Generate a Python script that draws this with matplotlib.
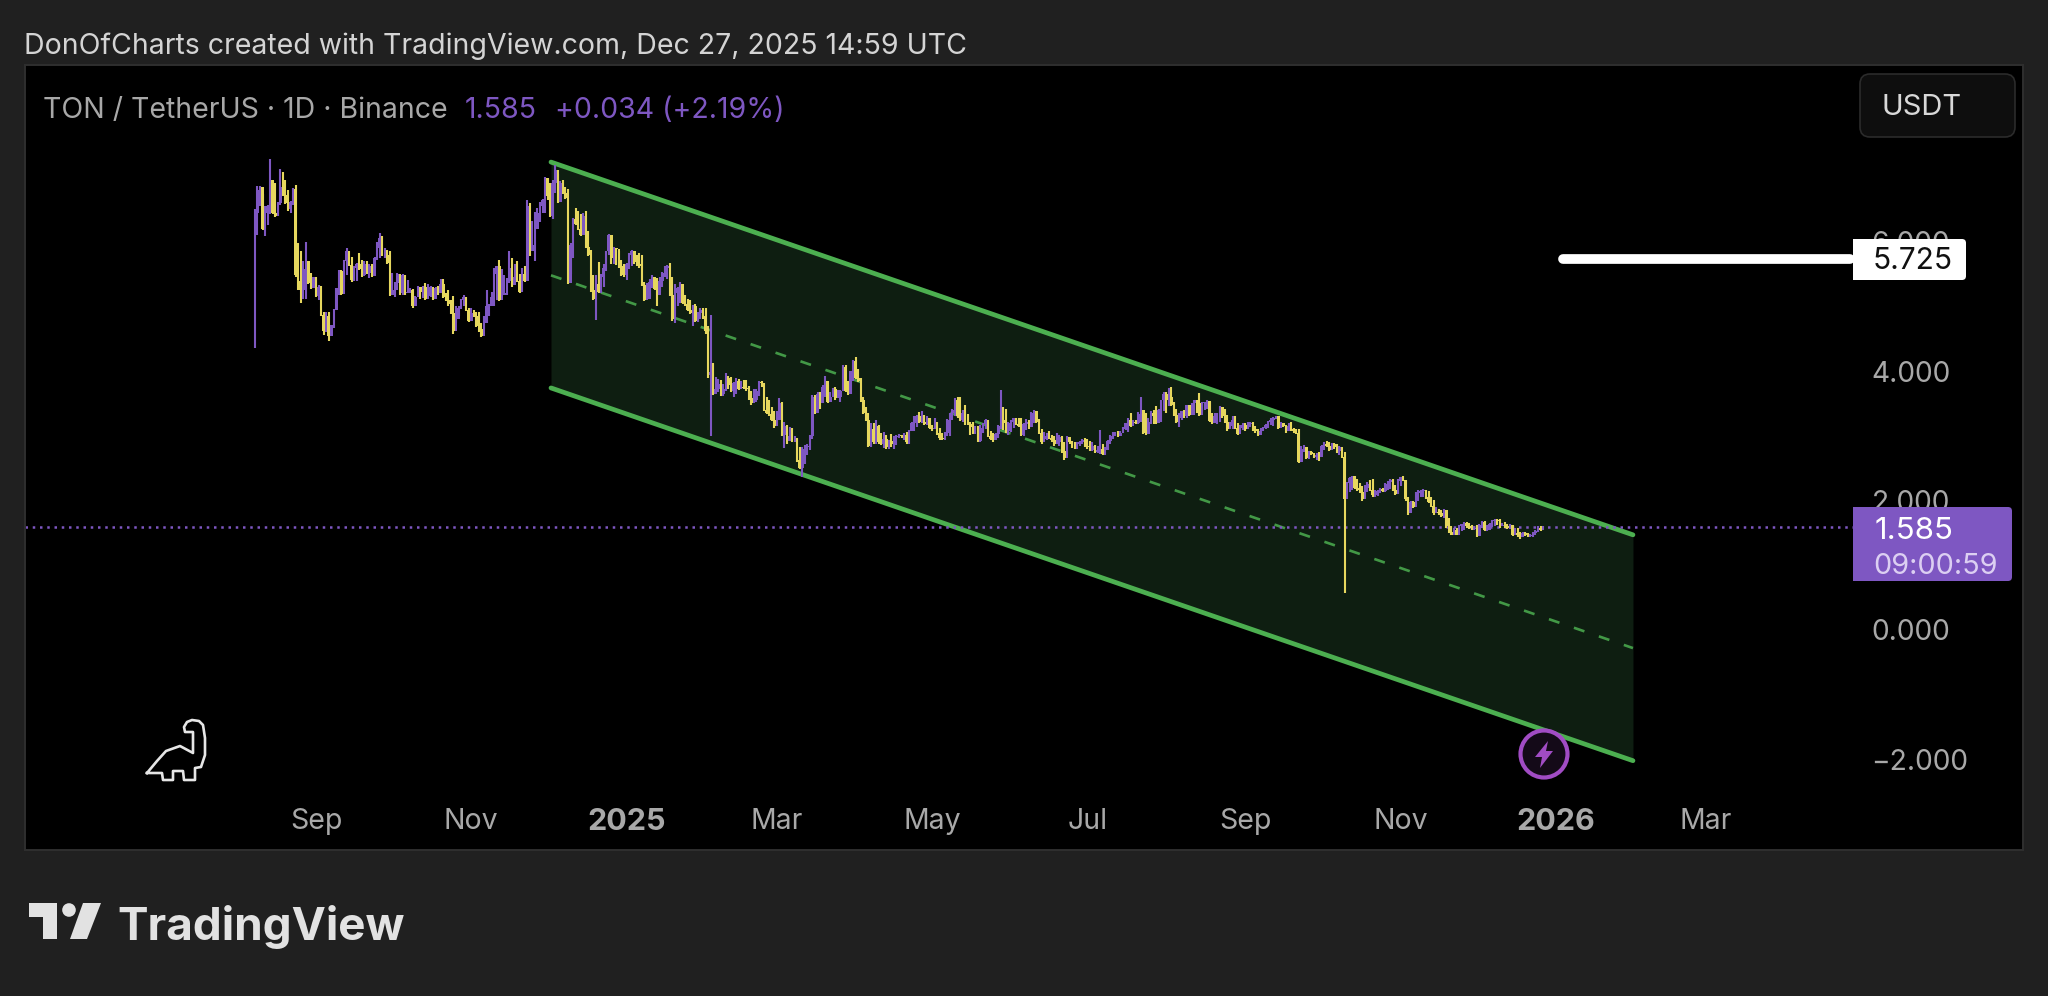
#!/usr/bin/env python3
# TON/USDT daily candles with a falling channel, TradingView dark snapshot look
import numpy as np
import matplotlib
matplotlib.use("Agg")
import matplotlib.pyplot as plt
from matplotlib.patches import FancyBboxPatch, Polygon, Circle, Rectangle
from matplotlib.lines import Line2D

plt.rcParams['font.family'] = ['Inter', 'DejaVu Sans']

# x axis is days since 2024-09-01
first_day = -24
first_open = 6.05

closes = [
    6.45, 6.80, 6.85, 6.20, 6.45, 6.55, 6.95, 6.45, 6.40, 6.60, 6.85, 6.72, 6.60, 6.50, 6.62, 6.82, 5.48, 5.40, 5.25, 5.58,
    5.70, 5.36, 5.29, 5.45, 5.16, 5.30, 4.87, 4.62, 4.85, 4.55, 4.72, 4.95, 5.28, 5.55, 5.19, 5.70, 5.85, 5.64, 5.41, 5.60,
    5.65, 5.58, 5.48, 5.66, 5.52, 5.62, 5.47, 5.75, 5.90, 6.05, 5.80, 5.80, 5.67, 5.18, 5.26, 5.36, 5.50, 5.20, 5.48, 5.20,
    5.22, 5.25, 5.00, 5.15, 5.30, 5.22, 5.30, 5.12, 5.16, 5.30, 5.12, 5.28, 5.20, 5.35, 5.15, 5.10, 5.03, 4.90, 4.62, 4.80,
    4.98, 5.10, 5.15, 4.95, 4.78, 4.90, 4.85, 4.70, 4.65, 4.55, 4.75, 5.00, 5.00, 5.15, 5.50, 5.62, 5.10, 5.18, 5.20, 5.40,
    5.60, 5.33, 5.45, 5.40, 5.22, 5.50, 5.40, 6.55, 5.85, 5.95, 6.20, 6.45, 6.55, 6.65, 6.98, 6.70, 6.40, 6.90, 7.10, 6.62,
    6.90, 6.75, 6.68, 5.36, 5.95, 6.35, 6.28, 6.20, 6.10, 6.40, 5.92, 5.80, 5.25, 5.12, 5.35, 5.22, 5.45, 5.60, 5.85, 6.10,
    5.75, 5.90, 5.88, 5.62, 5.49, 5.48, 5.65, 5.80, 5.85, 5.68, 5.65, 5.62, 5.33, 5.10, 5.12, 5.38, 5.45, 5.27, 5.18, 5.40,
    5.52, 5.60, 5.62, 5.18, 4.80, 5.20, 5.28, 5.35, 5.05, 5.03, 4.95, 4.90, 5.00, 4.78, 4.90, 4.95, 4.85, 4.62, 3.94, 3.98,
    3.65, 3.72, 3.80, 3.64, 3.72, 3.90, 3.78, 3.70, 3.82, 3.85, 3.73, 3.75, 3.74, 3.72, 3.58, 3.50, 3.55, 3.70, 3.83, 3.82,
    3.40, 3.35, 3.33, 3.25, 3.15, 3.25, 3.50, 3.02, 3.15, 2.92, 3.00, 2.92, 2.92, 2.62, 2.50, 2.80, 2.82, 2.85, 3.00, 3.60,
    3.35, 3.65, 3.50, 3.75, 3.85, 3.53, 3.60, 3.72, 3.58, 3.60, 3.70, 4.07, 3.70, 3.65, 4.00, 4.15, 3.90, 3.85, 3.55, 3.35,
    3.25, 2.85, 3.10, 2.90, 3.15, 2.90, 2.88, 2.95, 2.82, 2.92, 2.88, 2.98, 3.00, 3.02, 3.00, 3.02, 2.90, 3.08, 3.20, 3.30,
    3.30, 3.22, 3.22, 3.18, 3.28, 3.12, 3.10, 3.12, 3.04, 2.96, 2.95, 3.05, 3.25, 3.35, 3.40, 3.55, 3.30, 3.25, 3.35, 3.19,
    3.18, 3.13, 3.05, 3.05, 2.92, 3.12, 3.18, 3.24, 3.00, 2.95, 2.93, 3.03, 3.15, 3.25, 3.20, 3.07, 3.20, 3.22, 3.27, 3.18,
    3.15, 3.02, 3.18, 3.22, 3.13, 3.35, 3.38, 3.22, 3.05, 2.90, 2.95, 2.99, 2.97, 2.93, 2.87, 2.90, 2.98, 2.76, 2.65, 2.98,
    2.90, 2.83, 2.82, 2.88, 2.90, 2.93, 2.85, 2.83, 2.78, 2.85, 2.75, 2.78, 2.80, 2.72, 2.78, 2.92, 3.00, 3.05, 3.05, 3.00,
    3.05, 3.10, 3.20, 3.25, 3.15, 3.22, 3.20, 3.33, 3.40, 3.05, 3.03, 3.22, 3.35, 3.30, 3.20, 3.40, 3.55, 3.65, 3.55, 3.60,
    3.48, 3.32, 3.22, 3.28, 3.38, 3.30, 3.47, 3.32, 3.50, 3.55, 3.50, 3.32, 3.50, 3.52, 3.54, 3.23, 3.20, 3.30, 3.31, 3.44,
    3.30, 3.22, 3.10, 3.15, 3.25, 3.12, 3.03, 3.12, 3.17, 3.10, 3.18, 3.20, 3.10, 3.07, 3.02, 3.07, 3.12, 3.16, 3.22, 3.25,
    3.28, 3.30, 3.12, 3.20, 3.15, 3.07, 3.15, 3.10, 3.07, 3.05, 2.60, 2.80, 2.82, 2.66, 2.75, 2.72, 2.68, 2.70, 2.68, 2.85,
    2.88, 2.85, 2.78, 2.88, 2.82, 2.76, 2.82, 2.68, 2.03, 2.27, 2.35, 2.38, 2.20, 2.17, 2.13, 2.02, 2.20, 2.25, 2.17, 2.08,
    2.08, 2.15, 2.18, 2.15, 2.25, 2.28, 2.32, 2.17, 2.10, 2.30, 2.36, 2.32, 2.02, 1.80, 1.98, 1.90, 2.12, 2.15, 2.15, 2.16,
    2.05, 1.98, 1.92, 1.80, 1.83, 1.80, 1.76, 1.85, 1.60, 1.52, 1.46, 1.54, 1.47, 1.60, 1.63, 1.66, 1.60, 1.58, 1.56, 1.58,
    1.45, 1.62, 1.67, 1.55, 1.55, 1.63, 1.69, 1.70, 1.68, 1.60, 1.62, 1.60, 1.58, 1.62, 1.47, 1.50, 1.46, 1.43, 1.50, 1.47,
    1.45, 1.46, 1.50, 1.53, 1.58, 1.551, 1.585,
]
highs = [
    6.50, 6.86, 6.86, 6.73, 6.55, 6.56, 7.28, 6.93, 6.90, 6.61, 7.12, 7.08, 6.95, 6.80, 6.63, 6.83, 6.88, 5.98, 5.85, 5.70,
    5.99, 5.67, 5.52, 5.46, 5.46, 5.33, 5.32, 4.92, 4.92, 4.92, 4.72, 4.96, 5.28, 5.57, 5.57, 5.72, 5.90, 5.86, 5.77, 5.62,
    5.67, 5.82, 5.72, 5.70, 5.70, 5.65, 5.66, 5.76, 6.00, 6.14, 6.08, 5.90, 5.87, 5.85, 5.51, 5.37, 5.52, 5.46, 5.50, 5.48,
    5.41, 5.28, 5.27, 5.16, 5.32, 5.30, 5.32, 5.36, 5.35, 5.31, 5.25, 5.30, 5.32, 5.42, 5.42, 5.20, 5.25, 5.10, 5.16, 5.00,
    5.00, 5.12, 5.17, 5.15, 4.97, 4.97, 4.95, 4.92, 4.92, 4.75, 4.85, 5.25, 5.03, 5.22, 5.60, 5.63, 5.72, 5.58, 5.49, 5.44,
    5.85, 5.75, 5.65, 5.70, 5.50, 5.60, 5.62, 6.64, 6.60, 6.32, 6.46, 6.52, 6.62, 6.66, 7.00, 6.98, 6.90, 6.95, 7.19, 7.05,
    6.93, 6.95, 6.85, 6.82, 5.98, 6.36, 6.52, 6.47, 6.42, 6.45, 6.47, 6.16, 5.87, 5.48, 5.48, 5.68, 5.50, 5.65, 5.85, 6.12,
    6.02, 5.92, 5.90, 5.85, 5.72, 5.65, 5.67, 5.82, 5.87, 5.84, 5.80, 5.82, 5.80, 5.37, 5.36, 5.43, 5.48, 5.44, 5.44, 5.46,
    5.53, 5.62, 5.64, 5.67, 5.45, 5.35, 5.30, 5.37, 5.20, 5.18, 5.12, 5.10, 5.02, 5.04, 4.92, 4.97, 4.97, 4.97, 4.69, 4.87,
    4.12, 3.91, 3.88, 3.87, 3.80, 3.97, 3.92, 3.91, 3.83, 3.89, 3.88, 3.85, 3.87, 3.86, 3.77, 3.70, 3.72, 3.72, 3.84, 3.84,
    3.82, 3.60, 3.55, 3.45, 3.38, 3.38, 3.59, 3.53, 3.22, 3.17, 3.14, 3.12, 2.99, 2.96, 2.83, 2.82, 2.86, 2.87, 3.01, 3.63,
    3.63, 3.68, 3.68, 3.78, 3.92, 3.79, 3.68, 3.74, 3.76, 3.71, 3.71, 4.09, 4.09, 3.85, 4.00, 4.17, 4.22, 4.04, 3.90, 3.60,
    3.45, 3.35, 3.20, 3.20, 3.25, 3.17, 3.04, 3.06, 3.01, 2.93, 3.03, 2.99, 3.01, 3.03, 3.02, 3.04, 3.06, 3.09, 3.22, 3.31,
    3.32, 3.37, 3.39, 3.32, 3.30, 3.28, 3.16, 3.27, 3.22, 3.12, 3.05, 3.06, 3.26, 3.36, 3.41, 3.58, 3.60, 3.60, 3.40, 3.48,
    3.34, 3.22, 3.21, 3.15, 3.15, 3.17, 3.20, 3.26, 3.22, 3.07, 3.05, 3.04, 3.16, 3.71, 3.45, 3.42, 3.22, 3.25, 3.28, 3.27,
    3.27, 3.28, 3.20, 3.26, 3.24, 3.37, 3.40, 3.38, 3.26, 3.10, 3.06, 3.04, 3.07, 3.02, 3.00, 3.05, 3.01, 3.00, 2.90, 2.99,
    2.93, 2.92, 2.90, 2.90, 2.92, 2.95, 2.96, 2.95, 2.92, 2.91, 2.86, 2.85, 3.09, 2.88, 2.82, 2.94, 3.01, 3.06, 3.06, 3.07,
    3.07, 3.14, 3.20, 3.27, 3.36, 3.25, 3.24, 3.37, 3.60, 3.36, 3.36, 3.28, 3.38, 3.40, 3.46, 3.42, 3.56, 3.68, 3.68, 3.74,
    3.75, 3.53, 3.42, 3.35, 3.39, 3.40, 3.48, 3.45, 3.51, 3.56, 3.52, 3.66, 3.53, 3.53, 3.55, 3.53, 3.35, 3.35, 3.36, 3.46,
    3.45, 3.41, 3.32, 3.22, 3.30, 3.30, 3.20, 3.17, 3.20, 3.20, 3.21, 3.22, 3.21, 3.15, 3.10, 3.12, 3.14, 3.18, 3.23, 3.27,
    3.29, 3.31, 3.28, 3.22, 3.20, 3.16, 3.20, 3.22, 3.12, 3.10, 3.10, 2.84, 2.86, 2.81, 2.76, 2.76, 2.74, 2.73, 2.75, 2.86,
    2.90, 2.92, 2.91, 2.89, 2.89, 2.87, 2.84, 2.78, 2.75, 2.28, 2.36, 2.38, 2.38, 2.33, 2.27, 2.22, 2.24, 2.29, 2.31, 2.33,
    2.17, 2.17, 2.19, 2.19, 2.27, 2.30, 2.34, 2.33, 2.24, 2.33, 2.37, 2.38, 2.32, 2.05, 2.00, 2.00, 2.13, 2.17, 2.17, 2.18,
    2.17, 2.14, 2.05, 2.01, 1.90, 1.87, 1.85, 1.87, 1.82, 1.73, 1.60, 1.57, 1.57, 1.62, 1.64, 1.67, 1.67, 1.66, 1.62, 1.60,
    1.62, 1.64, 1.68, 1.68, 1.62, 1.65, 1.70, 1.71, 1.71, 1.71, 1.66, 1.67, 1.63, 1.64, 1.62, 1.58, 1.58, 1.52, 1.52, 1.51,
    1.50, 1.49, 1.51, 1.55, 1.60, 1.60, 1.60,
]
lows = [
    4.35, 6.10, 6.55, 6.18, 6.08, 6.25, 6.42, 6.43, 6.38, 6.40, 6.57, 6.70, 6.58, 6.48, 6.44, 6.57, 5.46, 5.25, 5.05, 5.12,
    5.12, 5.34, 5.27, 5.28, 5.14, 5.10, 4.85, 4.56, 4.60, 4.46, 4.62, 4.66, 4.95, 5.17, 5.17, 5.37, 5.49, 5.62, 5.38, 5.40,
    5.40, 5.56, 5.46, 5.47, 5.50, 5.44, 5.45, 5.60, 5.72, 5.74, 5.78, 5.75, 5.65, 5.16, 5.24, 5.15, 5.25, 5.18, 5.18, 5.18,
    5.20, 5.20, 4.98, 5.00, 5.14, 5.12, 5.13, 5.10, 5.14, 5.14, 5.10, 5.20, 5.18, 5.20, 5.13, 5.08, 5.01, 4.88, 4.58, 4.75,
    4.85, 4.96, 5.00, 4.93, 4.76, 4.80, 4.83, 4.68, 4.60, 4.53, 4.65, 4.75, 4.85, 5.00, 5.00, 5.10, 5.08, 5.16, 5.18, 5.18,
    5.36, 5.30, 5.38, 5.38, 5.20, 5.22, 5.37, 5.46, 5.78, 5.92, 5.70, 6.20, 6.30, 6.45, 6.45, 6.65, 6.38, 6.35, 6.75, 6.60,
    6.62, 6.73, 6.66, 5.34, 5.50, 5.75, 6.26, 6.18, 6.08, 6.10, 5.90, 5.78, 5.23, 5.10, 4.79, 5.20, 5.20, 5.30, 5.55, 5.80,
    5.65, 5.65, 5.64, 5.60, 5.47, 5.46, 5.41, 5.58, 5.62, 5.66, 5.63, 5.60, 5.31, 5.08, 5.10, 5.15, 5.28, 5.25, 5.00, 5.22,
    5.30, 5.45, 5.43, 5.16, 4.78, 4.74, 5.00, 5.05, 5.03, 5.01, 4.93, 4.88, 4.69, 4.76, 4.76, 4.80, 4.80, 4.58, 3.90, 2.99,
    3.63, 3.70, 3.68, 3.62, 3.62, 3.70, 3.72, 3.68, 3.60, 3.65, 3.71, 3.73, 3.72, 3.70, 3.56, 3.48, 3.53, 3.53, 3.62, 3.75,
    3.38, 3.33, 3.31, 3.23, 3.12, 3.15, 3.28, 3.00, 2.81, 2.88, 2.98, 2.90, 2.90, 2.60, 2.48, 2.37, 2.56, 2.70, 2.78, 2.95,
    3.33, 3.40, 3.42, 3.50, 3.60, 3.51, 3.58, 3.60, 3.56, 3.58, 3.52, 3.70, 3.68, 3.63, 3.65, 3.85, 3.88, 3.83, 3.53, 3.33,
    3.23, 2.83, 2.83, 2.88, 2.88, 2.88, 2.86, 2.81, 2.80, 2.80, 2.83, 2.80, 2.86, 2.96, 2.96, 2.93, 2.88, 2.88, 3.08, 3.08,
    3.14, 3.20, 3.20, 3.16, 3.16, 3.10, 3.08, 3.10, 3.02, 2.94, 2.93, 2.93, 3.00, 3.00, 3.25, 3.30, 3.28, 3.23, 3.22, 3.17,
    3.16, 3.02, 3.03, 3.03, 2.90, 2.91, 3.04, 3.10, 2.98, 2.93, 2.91, 2.93, 2.97, 3.10, 3.09, 3.05, 3.01, 3.06, 3.12, 3.16,
    3.13, 3.00, 3.00, 3.09, 3.11, 3.17, 3.20, 3.20, 3.03, 2.88, 2.90, 2.93, 2.95, 2.91, 2.85, 2.88, 2.85, 2.74, 2.62, 2.70,
    2.88, 2.81, 2.80, 2.80, 2.85, 2.88, 2.83, 2.80, 2.76, 2.76, 2.73, 2.73, 2.72, 2.70, 2.71, 2.78, 2.88, 2.95, 3.00, 2.98,
    3.03, 3.05, 3.09, 3.06, 3.13, 3.16, 3.18, 3.18, 3.22, 3.03, 3.01, 3.09, 3.19, 3.18, 3.18, 3.20, 3.22, 3.39, 3.35, 3.46,
    3.46, 3.30, 3.20, 3.13, 3.24, 3.28, 3.28, 3.30, 3.34, 3.32, 3.35, 3.30, 3.37, 3.40, 3.42, 3.21, 3.18, 3.22, 3.19, 3.22,
    3.28, 3.20, 3.08, 3.10, 3.11, 3.10, 3.01, 3.08, 3.09, 3.08, 3.10, 3.14, 3.08, 3.05, 3.00, 3.05, 3.07, 3.10, 3.12, 3.17,
    3.15, 3.26, 3.10, 3.13, 3.13, 3.05, 3.10, 3.08, 3.05, 3.03, 2.58, 2.76, 2.75, 2.64, 2.64, 2.70, 2.66, 2.62, 2.61, 2.70,
    2.78, 2.83, 2.76, 2.80, 2.80, 2.74, 2.70, 2.66, 0.57, 2.03, 2.13, 2.17, 2.18, 2.15, 2.11, 2.00, 2.10, 2.13, 2.15, 2.06,
    2.06, 2.07, 2.12, 2.13, 2.13, 2.17, 2.18, 2.15, 2.08, 2.10, 2.22, 2.30, 2.00, 1.78, 1.82, 1.88, 1.95, 2.00, 2.05, 2.05,
    2.03, 1.96, 1.90, 1.78, 1.80, 1.78, 1.74, 1.73, 1.58, 1.50, 1.46, 1.47, 1.46, 1.48, 1.53, 1.55, 1.58, 1.56, 1.54, 1.55,
    1.43, 1.49, 1.57, 1.53, 1.53, 1.57, 1.59, 1.60, 1.62, 1.58, 1.60, 1.58, 1.56, 1.56, 1.45, 1.46, 1.44, 1.41, 1.43, 1.45,
    1.43, 1.44, 1.44, 1.47, 1.52, 1.53, 1.54,
]

# channel drawing, two anchor points in (day, price)
channel_x = [92.3, 517.3]
channel_top = [7.23, 1.47]
channel_mid = [5.48, -0.28]
channel_low = [3.74, -2.02]

last_price = 1.585
drawn_level = 5.725
drawn_level_x = [490, 602.5]

month_days = [0, 61, 122, 181, 242, 303, 365, 426, 487, 546]
month_labels = ['Sep', 'Nov', '2025', 'Mar', 'May', 'Jul', 'Sep', 'Nov', '2026', 'Mar']
price_ticks = [-2, 0, 2, 4, 6]
price_labels = ['\u22122.000', '0.000', '2.000', '4.000', '6.000']

PURPLE = '#7E57C2'
YELLOW = '#E6D75E'
GREEN = '#4CAF50'
BG = '#202020'
TICK = '#a8a8a8'

W, H = 2048, 996
fig = plt.figure(figsize=(W / 100, H / 100), dpi=100, facecolor=BG)

# price panel, placed by pixel box
left, right, top, bottom = 25, 2023, 65, 850
ax = fig.add_axes([left / W, 1 - bottom / H, (right - left) / W, (bottom - top) / H], facecolor='black')
ax.set_xlim(-114.3, 670.5)
ax.set_ylim(-3.40, 8.73)
for s in ax.spines.values():
    s.set_color('#2f2f2f')
    s.set_linewidth(1.4)

ax.set_xticks(month_days)
ax.set_xticklabels(month_labels)
ax.tick_params(axis='x', length=0, pad=-30, labelsize=20.5, labelcolor=TICK)
for lbl, txt in zip(ax.get_xticklabels(), month_labels):
    if txt.startswith('20'):
        lbl.set_fontweight('bold')
        lbl.set_fontsize(22)

ax.yaxis.tick_right()
ax.set_yticks(price_ticks)
ax.set_yticklabels(price_labels)
ax.tick_params(axis='y', length=0, pad=-109, labelsize=20.3, labelcolor=TICK)
for lbl in ax.get_yticklabels():
    lbl.set_ha('left')
ax.set_axisbelow(True)

# channel
ax.fill_between(channel_x, channel_low, channel_top, color='#0e1e11', lw=0, zorder=1)
ax.plot(channel_x, channel_top, color=GREEN, lw=3.4, solid_capstyle='round', zorder=2)
ax.plot(channel_x, channel_low, color=GREEN, lw=3.4, solid_capstyle='round', zorder=2)
ax.plot(channel_x, channel_mid, color=GREEN, lw=1.9, ls=(0, (4.2, 5.8)), alpha=0.85, zorder=2)

# last price line
ax.axhline(last_price, xmax=(1853 - left) / (right - left), color=PURPLE, lw=1.8,
           ls=(0, (1, 1.9)), zorder=2)

# candles, open is previous close
c = np.array(closes)
o = np.concatenate([[first_open], c[:-1]])
x = first_day + np.arange(len(c))
cols = [PURPLE if a >= b else YELLOW for a, b in zip(c, o)]
ax.vlines(x, lows, highs, colors=cols, lw=1.5, zorder=3)
ax.bar(x, np.abs(c - o), bottom=np.minimum(c, o), width=1.0, color=cols, lw=0, zorder=3)

# drawn level
ax.plot(drawn_level_x, [drawn_level, drawn_level], color='white', lw=7, solid_capstyle='round', zorder=3)

# overlay in pixel coordinates for the chrome around the chart
ui = fig.add_axes([0, 0, 1, 1], facecolor='none')
ui.set_xlim(0, W)
ui.set_ylim(H, 0)
ui.axis('off')


def round_box(x0, y0, x1, y1, face, edge='none', rad=4):
    ui.add_patch(FancyBboxPatch((x0 + rad, y0 + rad), x1 - x0 - 2 * rad, y1 - y0 - 2 * rad,
                                boxstyle=f"round,pad={rad},rounding_size={rad}",
                                fc=face, ec=edge, lw=1.2, zorder=5))


# price labels
round_box(1853, 239, 1966, 280, 'white')
ui.add_patch(Rectangle((1853, 239), 8, 41, fc='white', lw=0, zorder=5))
ui.text(1873, 261, '5.725', color='#111111', fontsize=21.5, va='center', ha='left', zorder=6)
round_box(1853, 507, 2012, 581, PURPLE)
ui.add_patch(Rectangle((1853, 507), 8, 74, fc=PURPLE, lw=0, zorder=5))
ui.text(1875, 531, '1.585', color='white', fontsize=22.5, va='center', ha='left', zorder=6)
ui.text(1873, 566, '09:00:59', color='#dccff2', fontsize=20.8, va='center', ha='left', zorder=6)

# currency button
round_box(1860, 74, 2015, 137, '#0e0e0e', edge='#2b2b2b', rad=10)
ui.text(1881, 107, 'USDT', color='#d8d8d8', fontsize=21, va='center', ha='left', zorder=6)

# header texts
ui.text(24, 46, 'DonOfCharts created with TradingView.com, Dec 27, 2025 14:59 UTC',
        color='#d4d4d4', fontsize=20.5, va='center', ha='left')
ui.text(43, 110, 'TON / TetherUS \u00b7 1D \u00b7 Binance', color=TICK, fontsize=20.5, va='center', ha='left')
ui.text(465, 110, '1.585', color=PURPLE, fontsize=20.5, va='center', ha='left')
ui.text(555, 110, '+0.034 (+2.19%)', color=PURPLE, fontsize=20.5, va='center', ha='left')

# dino icon outline
dino_x = [147, 157, 166, 180, 193, 193, 185, 184, 187, 192, 199, 203, 205, 205, 201, 195, 195, 184, 183, 173, 173, 163, 162, 147]
dino_y = [773, 761, 751, 746, 753, 732, 732, 727, 722, 720, 721, 725, 738, 755, 767, 768, 780, 780, 771, 771, 780, 780, 773, 773]
ui.add_line(Line2D(dino_x, dino_y, color='#e6e6e6', lw=1.9, solid_joinstyle='round'))

# lightning badge
ui.add_patch(Circle((1544, 754), 23.5, fc='#140a18', ec='#A14CC4', lw=3.0, zorder=4))
ui.add_patch(Polygon([(1548, 741), (1535, 757), (1542, 757), (1540, 768), (1553, 751), (1546, 751)],
                     fc='#A14CC4', lw=0, zorder=5))

# TradingView logo
logo = '#e2e2e2'
ui.add_patch(Polygon([(29, 903), (57, 903), (57, 939), (43, 939), (43, 917), (29, 917)], fc=logo, lw=0))
ui.add_patch(Circle((69, 910), 6.8, fc=logo, lw=0))
ui.add_patch(Polygon([(83, 903), (101, 903), (87, 939), (70, 939)], fc=logo, lw=0))
ui.text(117, 940, 'TradingView', color=logo, fontsize=33, fontweight='bold', va='baseline', ha='left')

fig.savefig('out.png', dpi=100, facecolor=BG)
